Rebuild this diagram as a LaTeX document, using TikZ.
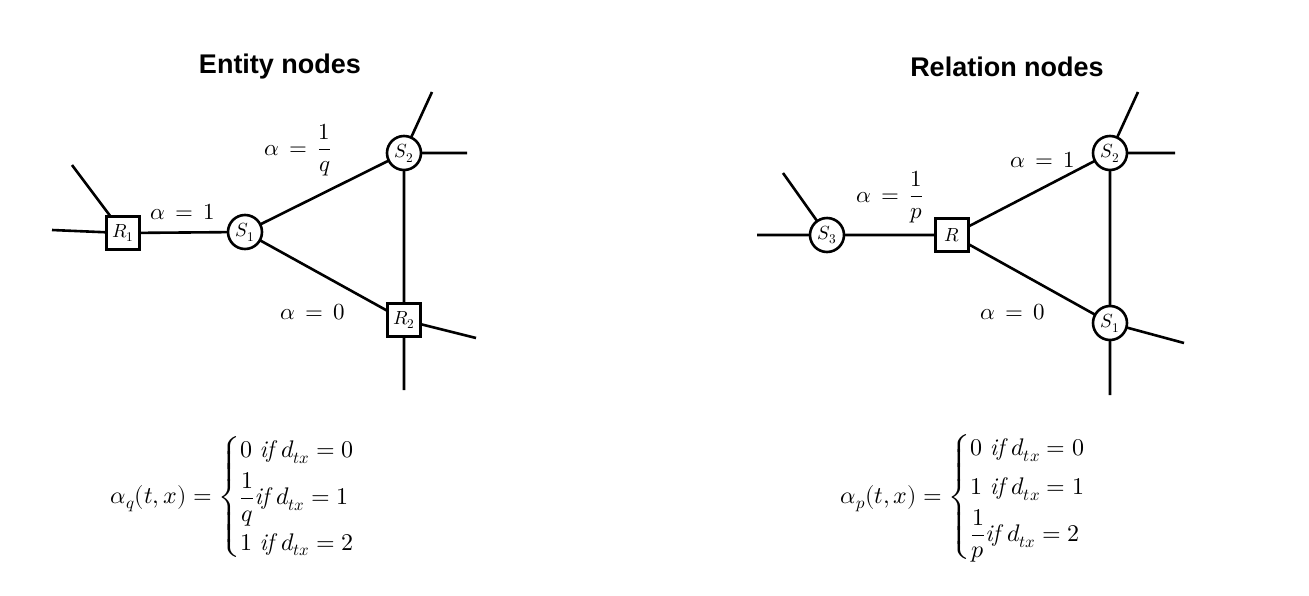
\documentclass[tikz,border=0pt]{standalone}
\usepackage{amsmath}
\usepackage{fontspec}
\usepackage{unicode-math}
\setmathfont{Latin Modern Math}
\newfontfamily\titlefont{Liberation Sans}
\begin{document}
\begin{tikzpicture}[x=1pt,y=-1pt,
  ln/.style={line width=2.6pt},
  sq/.style={draw,line width=2.6pt,minimum size=33pt,inner sep=0pt,fill=white,font=\fontsize{19}{22}\selectfont},
  ci/.style={draw,circle,line width=2.6pt,minimum size=34pt,inner sep=0pt,fill=white,font=\fontsize{19}{22}\selectfont},
  lab/.style={font=\fontsize{23}{27}\selectfont},
  ttl/.style={font=\titlefont\bfseries\fontsize{27}{31}\selectfont},
  eq/.style={font=\fontsize{24}{29}\selectfont}]
\useasboundingbox (0,0) rectangle (1309,595);
% left
\coordinate (a1) at (52,230); \coordinate (a2) at (72,165);
\coordinate (a3) at (432,92); \coordinate (a4) at (467,153);
\coordinate (a5) at (476,338); \coordinate (a6) at (404,390);
\draw[ln] (a1) -- (123,233) (a2) -- (123,233);
\draw[ln] (123,233) -- (245,232) -- (404,153) -- (404,320) -- (245,232);
\draw[ln] (404,153) -- (a3) (404,153) -- (a4) (404,320) -- (a5) (404,320) -- (a6);
\node[sq] (R1) at (123,233) {$R_1$};
\node[ci] (S1) at (245,232) {$S_1$};
\node[ci] (S2) at (404,153) {$S_2$};
\node[sq] (R2) at (404,320) {$R_2$};
\node[lab] (l1) at (183,212) {$\alpha\,=\,1$};
\node[lab] (l2) at (298,150) {$\alpha\,=\,\dfrac{1}{q}$};
\node[lab] (l3) at (313,312) {$\alpha\,=\,0$};
\node[ttl] (t1) at (280,67) {Entity nodes};
\node[eq] (e1) at (245,497) {$\alpha_q(t,x)=\begin{cases}0\ \mathit{if}\ d_{tx}=0\\[4pt] \dfrac{1}{q}\mathit{if}\ d_{tx}=1\\[4pt] 1\ \mathit{if}\ d_{tx}=2\end{cases}$};
% right
\coordinate (b1) at (757,235); \coordinate (b2) at (783,173);
\coordinate (b3) at (1138,92); \coordinate (b4) at (1175,153);
\coordinate (b5) at (1184,343); \coordinate (b6) at (1110,395);
\draw[ln] (b1) -- (827,235) (b2) -- (827,235);
\draw[ln] (827,235) -- (952,235) -- (1110,153) -- (1110,323) -- (952,235);
\draw[ln] (1110,153) -- (b3) (1110,153) -- (b4) (1110,323) -- (b5) (1110,323) -- (b6);
\node[ci] (S3) at (827,235) {$S_3$};
\node[sq] (R) at (952,235) {$R$};
\node[ci] (T2) at (1110,153) {$S_2$};
\node[ci] (T1) at (1110,323) {$S_1$};
\node[lab] (m1) at (890,197) {$\alpha\,=\,\dfrac{1}{p}$};
\node[lab] (m2) at (1043,160) {$\alpha\,=\,1$};
\node[lab] (m3) at (1013,312) {$\alpha\,=\,0$};
\node[ttl] (t2) at (1007,67) {Relation nodes};
\node[eq] (e2) at (975,497) {$\alpha_p(t,x)=\begin{cases}0\ \mathit{if}\ d_{tx}=0\\[4pt] 1\ \mathit{if}\ d_{tx}=1\\[4pt] \dfrac{1}{p}\mathit{if}\ d_{tx}=2\end{cases}$};
\end{tikzpicture}
\end{document}
